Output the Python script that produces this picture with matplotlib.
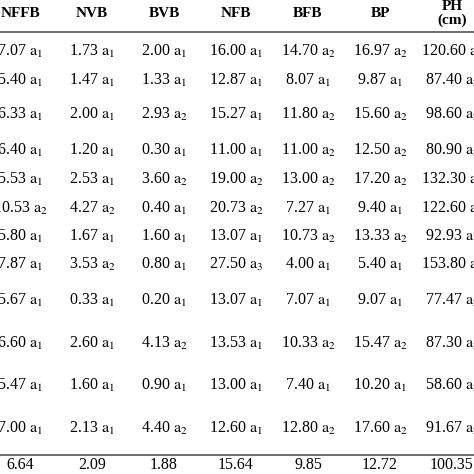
import matplotlib.pyplot as plt

plt.rcParams["font.family"] = "Liberation Serif"
plt.rcParams["mathtext.fontset"] = "stix"

columns = ["NFFB", "NVB", "BVB", "NFB", "BFB", "BP", "PH\n(cm)"]
nffb = ["7.07 a1", "5.40 a1", "6.33 a1", "6.40 a1", "5.53 a1", "10.53 a2", "5.80 a1",
        "7.87 a1", "5.67 a1", "6.60 a1", "5.47 a1", "7.00 a1"]
nvb = ["1.73 a1", "1.47 a1", "2.00 a1", "1.20 a1", "2.53 a1", "4.27 a2", "1.67 a1",
       "3.53 a2", "0.33 a1", "2.60 a1", "1.60 a1", "2.13 a1"]
bvb = ["2.00 a1", "1.33 a1", "2.93 a2", "0.30 a1", "3.60 a2", "0.40 a1", "1.60 a1",
       "0.80 a1", "0.20 a1", "4.13 a2", "0.90 a1", "4.40 a2"]
nfb = ["16.00 a1", "12.87 a1", "15.27 a1", "11.00 a1", "19.00 a2", "20.73 a2", "13.07 a1",
       "27.50 a3", "13.07 a1", "13.53 a1", "13.00 a1", "12.60 a1"]
bfb = ["14.70 a2", "8.07 a1", "11.80 a2", "11.00 a2", "13.00 a2", "7.27 a1", "10.73 a2",
       "4.00 a1", "7.07 a1", "10.33 a2", "7.40 a1", "12.80 a2"]
bp = ["16.97 a2", "9.87 a1", "15.60 a2", "12.50 a2", "17.20 a2", "9.40 a1", "13.33 a2",
      "5.40 a1", "9.07 a1", "15.47 a2", "10.20 a1", "17.60 a2"]
ph = ["120.60 a1", "87.40 a2", "98.60 a2", "80.90 a2", "132.30 a1", "122.60 a1", "92.93 a1",
      "153.80 a1", "77.47 a2", "87.30 a2", "58.60 a2", "91.67 a2"]
means = ["6.64", "2.09", "1.88", "15.64", "9.85", "12.72", "100.35"]

data = [nffb, nvb, bvb, nfb, bfb, bp, ph]
col_x = [20, 92, 164, 236, 308, 380, 452]
row_y = [51, 80, 114, 150, 179, 208, 236, 264, 300, 343, 385, 428]

fig = plt.figure(figsize=(4.74, 4.74), dpi=100)
ax = fig.add_axes([0, 0, 1, 1])
ax.set_xlim(0, 474)
ax.set_ylim(474, 0)
ax.axis("off")


def fmt(s):
    num, sub = s.split(" a")
    return num + r" $\mathrm{a}_{" + sub + "}$"


for x, name in zip(col_x, columns):
    if "\n" in name:
        top, bot = name.split("\n")
        ax.text(x, 6, top, ha="center", va="center", fontsize=11, fontweight="bold")
        ax.text(x, 20, bot, ha="center", va="center", fontsize=11, fontweight="bold")
    else:
        ax.text(x, 13, name, ha="center", va="center", fontsize=11, fontweight="bold")

for x, col in zip(col_x, data):
    for y, val in zip(row_y, col):
        ax.text(x, y, fmt(val), ha="center", va="center", fontsize=11.5)

for x, m in zip(col_x, means):
    ax.text(x, 465, m, ha="center", va="center", fontsize=11.5)

ax.plot([0, 474], [32, 32], color="#555555", lw=1.2)
ax.plot([0, 474], [455, 455], color="#555555", lw=1.2)

fig.savefig("out.png", dpi=100)
